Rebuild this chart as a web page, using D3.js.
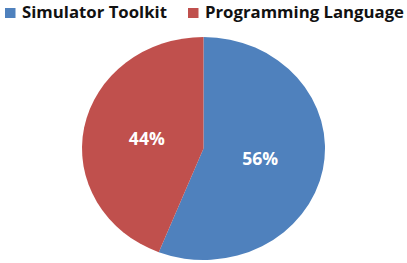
<!DOCTYPE html>
<html>
<head>
<meta charset="utf-8">
<script src="https://cdn.jsdelivr.net/npm/d3@7"></script>
<style>
  body { margin: 0; background: #fff; }
  text { font-family: "Open Sans", "DejaVu Sans", sans-serif; font-weight: bold; }
</style>
</head>
<body>
<svg id="chart" width="407" height="263"></svg>
<script>
const categories = ['Simulator Toolkit', 'Programming Language'];
const values = [56, 44];
const colors = ['#4F81BD', '#C0504D'];

const width = 407, height = 263;
const cx = 203.5, cy = 148.5;
const ry = 111.5, rx = 121.5;
const sx = rx / ry; // pie is drawn a bit wider than tall

const svg = d3.select('#chart');

const pie = d3.pie().sort(null).value(d => d.v);
const arc = d3.arc().innerRadius(0).outerRadius(ry);
const labelArc = d3.arc().innerRadius(0).outerRadius(ry * 0.95);

const data = categories.map((c, i) => ({ c: c, v: values[i] }));
const arcs = pie(data);

const g = svg.append('g').attr('transform', 'translate(' + cx + ',' + cy + ')');

g.append('g')
  .attr('transform', 'scale(' + sx + ',1)')
  .selectAll('path')
  .data(arcs)
  .join('path')
  .attr('d', arc)
  .attr('fill', (d, i) => colors[i]);

// percent labels, placed at the stretched centroid
g.selectAll('text.pct')
  .data(arcs)
  .join('text')
  .attr('class', 'pct')
  .attr('x', d => labelArc.centroid(d)[0] * sx)
  .attr('y', d => labelArc.centroid(d)[1])
  .attr('dy', '0.36em')
  .attr('text-anchor', 'middle')
  .attr('fill', '#fff')
  .attr('textLength', 36)
  .attr('lengthAdjust', 'spacingAndGlyphs')
  .style('font-size', '18px')
  .text(d => d.data.v + '%');

// legend (Calibri-like narrow text: squeeze to the widths seen in the original)
const legendX = [5, 188];
const legendW = [145, 199];
const legend = svg.append('g');
const item = legend.selectAll('g')
  .data(data)
  .join('g')
  .attr('transform', (d, i) => 'translate(' + legendX[i] + ',8)');
item.append('rect')
  .attr('width', 10.5).attr('height', 10)
  .attr('fill', (d, i) => colors[i]);
item.append('text')
  .attr('x', 17).attr('y', 10)
  .style('font-size', '16.8px')
  .attr('fill', '#111')
  .attr('textLength', (d, i) => legendW[i])
  .attr('lengthAdjust', 'spacingAndGlyphs')
  .text(d => d.c);
</script>
</body>
</html>
